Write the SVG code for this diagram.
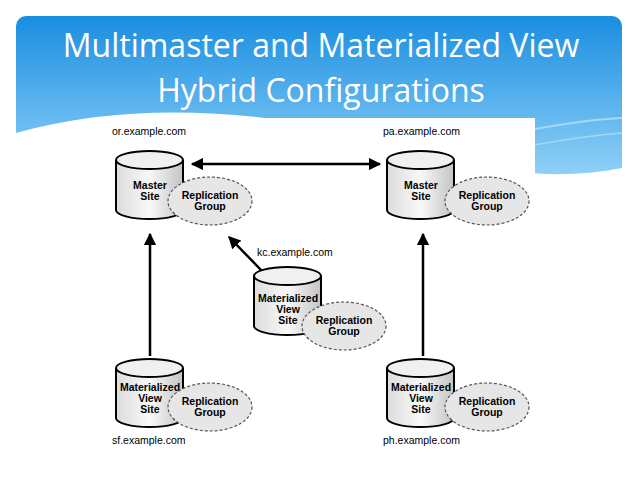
<svg xmlns="http://www.w3.org/2000/svg" width="638" height="478" viewBox="0 0 638 478">
<defs>
<linearGradient id="hg" x1="0" y1="0" x2="0" y2="1"><stop offset="0" stop-color="#1a8ee0"/><stop offset="1" stop-color="#8fd0f7"/></linearGradient>
<linearGradient id="cyl" x1="0" y1="0" x2="1" y2="0"><stop offset="0" stop-color="#dcdcdc"/><stop offset="0.5" stop-color="#f8f8f8"/><stop offset="1" stop-color="#c4c4c4"/></linearGradient>
<marker id="ah" viewBox="0 0 10 10" refX="9" refY="5" markerWidth="5" markerHeight="5" orient="auto-start-reverse"><path d="M0,0 L10,5 L0,10 z" fill="#000"/></marker>
<g id="cy"><path d="M0,0 v50 a33.5,9 0 0 0 67,0 v-50" fill="url(#cyl)" stroke="#000" stroke-width="2"/><ellipse cx="33.5" cy="0" rx="33.5" ry="9" fill="#f0f0f0" stroke="#000" stroke-width="2"/></g>
</defs>
<style>
.t{font-family:"Liberation Sans",Arial,sans-serif;font-size:10.5px;font-weight:bold;text-anchor:middle;fill:#000}
.u{font-family:"Liberation Sans",Arial,sans-serif;font-size:10.5px;fill:#000}
.g{fill:#e6e6e6;stroke:#555;stroke-width:1.2;stroke-dasharray:3 2}
.c{stroke:#000;stroke-width:2.5;fill:none;marker-end:url(#ah)}
</style>
<rect width="638" height="478" fill="#fff"/>
<path d="M16,26 a10,10 0 0 1 10,-10 H612 a10,10 0 0 1 10,10 V168 C560,180 500,175 420,150 C300,115 150,95 16,133 Z" fill="url(#hg)"/>
<path d="M440,150 C520,130 580,120 622,118" stroke="#bfe6fb" stroke-width="2" fill="none" opacity="0.7"/>
<path d="M450,160 C530,145 590,135 622,133" stroke="#bfe6fb" stroke-width="1.5" fill="none" opacity="0.6"/>
<g font-family="'Open Sans','Noto Sans',sans-serif" font-size="32" fill="#fff" text-anchor="middle">
<text x="321" y="57">Multimaster and Materialized View</text>
<text x="321" y="102">Hybrid Configurations</text>
</g>
<rect x="92" y="118" width="443" height="337" fill="#fff"/>
<g id="connectors">
<line x1="192" y1="164" x2="380" y2="164" class="c" marker-start="url(#ah)"/>
<line x1="150" y1="356" x2="150" y2="234" class="c"/>
<line x1="423" y1="356" x2="423" y2="234" class="c"/>
<line x1="262" y1="271" x2="229" y2="237" class="c"/>
</g>
<g id="or"><text class="u" x="112" y="135">or.example.com</text><use href="#cy" x="116" y="160"/><text class="t" x="150" y="189">Master</text><text class="t" x="150" y="200">Site</text><ellipse class="g" cx="210" cy="201" rx="42" ry="24"/><text class="t" x="210" y="199">Replication</text><text class="t" x="210" y="210">Group</text></g>
<g id="pa"><text class="u" x="383" y="135">pa.example.com</text><use href="#cy" x="387" y="160"/><text class="t" x="421" y="189">Master</text><text class="t" x="421" y="200">Site</text><ellipse class="g" cx="487" cy="201" rx="42" ry="24"/><text class="t" x="487" y="199">Replication</text><text class="t" x="487" y="210">Group</text></g>
<g id="kc"><text class="u" x="257" y="256">kc.example.com</text><use href="#cy" x="254" y="276"/><text class="t" x="288" y="302">Materialized</text><text class="t" x="288" y="313">View</text><text class="t" x="288" y="324">Site</text><ellipse class="g" cx="344" cy="326" rx="42" ry="24"/><text class="t" x="344" y="324">Replication</text><text class="t" x="344" y="335">Group</text></g>
<g id="sf"><text class="u" x="112" y="444">sf.example.com</text><use href="#cy" x="116" y="368"/><text class="t" x="150" y="391">Materialized</text><text class="t" x="150" y="402">View</text><text class="t" x="150" y="413">Site</text><ellipse class="g" cx="210" cy="407" rx="42" ry="24"/><text class="t" x="210" y="405">Replication</text><text class="t" x="210" y="416">Group</text></g>
<g id="ph"><text class="u" x="383" y="444">ph.example.com</text><use href="#cy" x="387" y="368"/><text class="t" x="421" y="391">Materialized</text><text class="t" x="421" y="402">View</text><text class="t" x="421" y="413">Site</text><ellipse class="g" cx="487" cy="407" rx="42" ry="24"/><text class="t" x="487" y="405">Replication</text><text class="t" x="487" y="416">Group</text></g>
</svg>
